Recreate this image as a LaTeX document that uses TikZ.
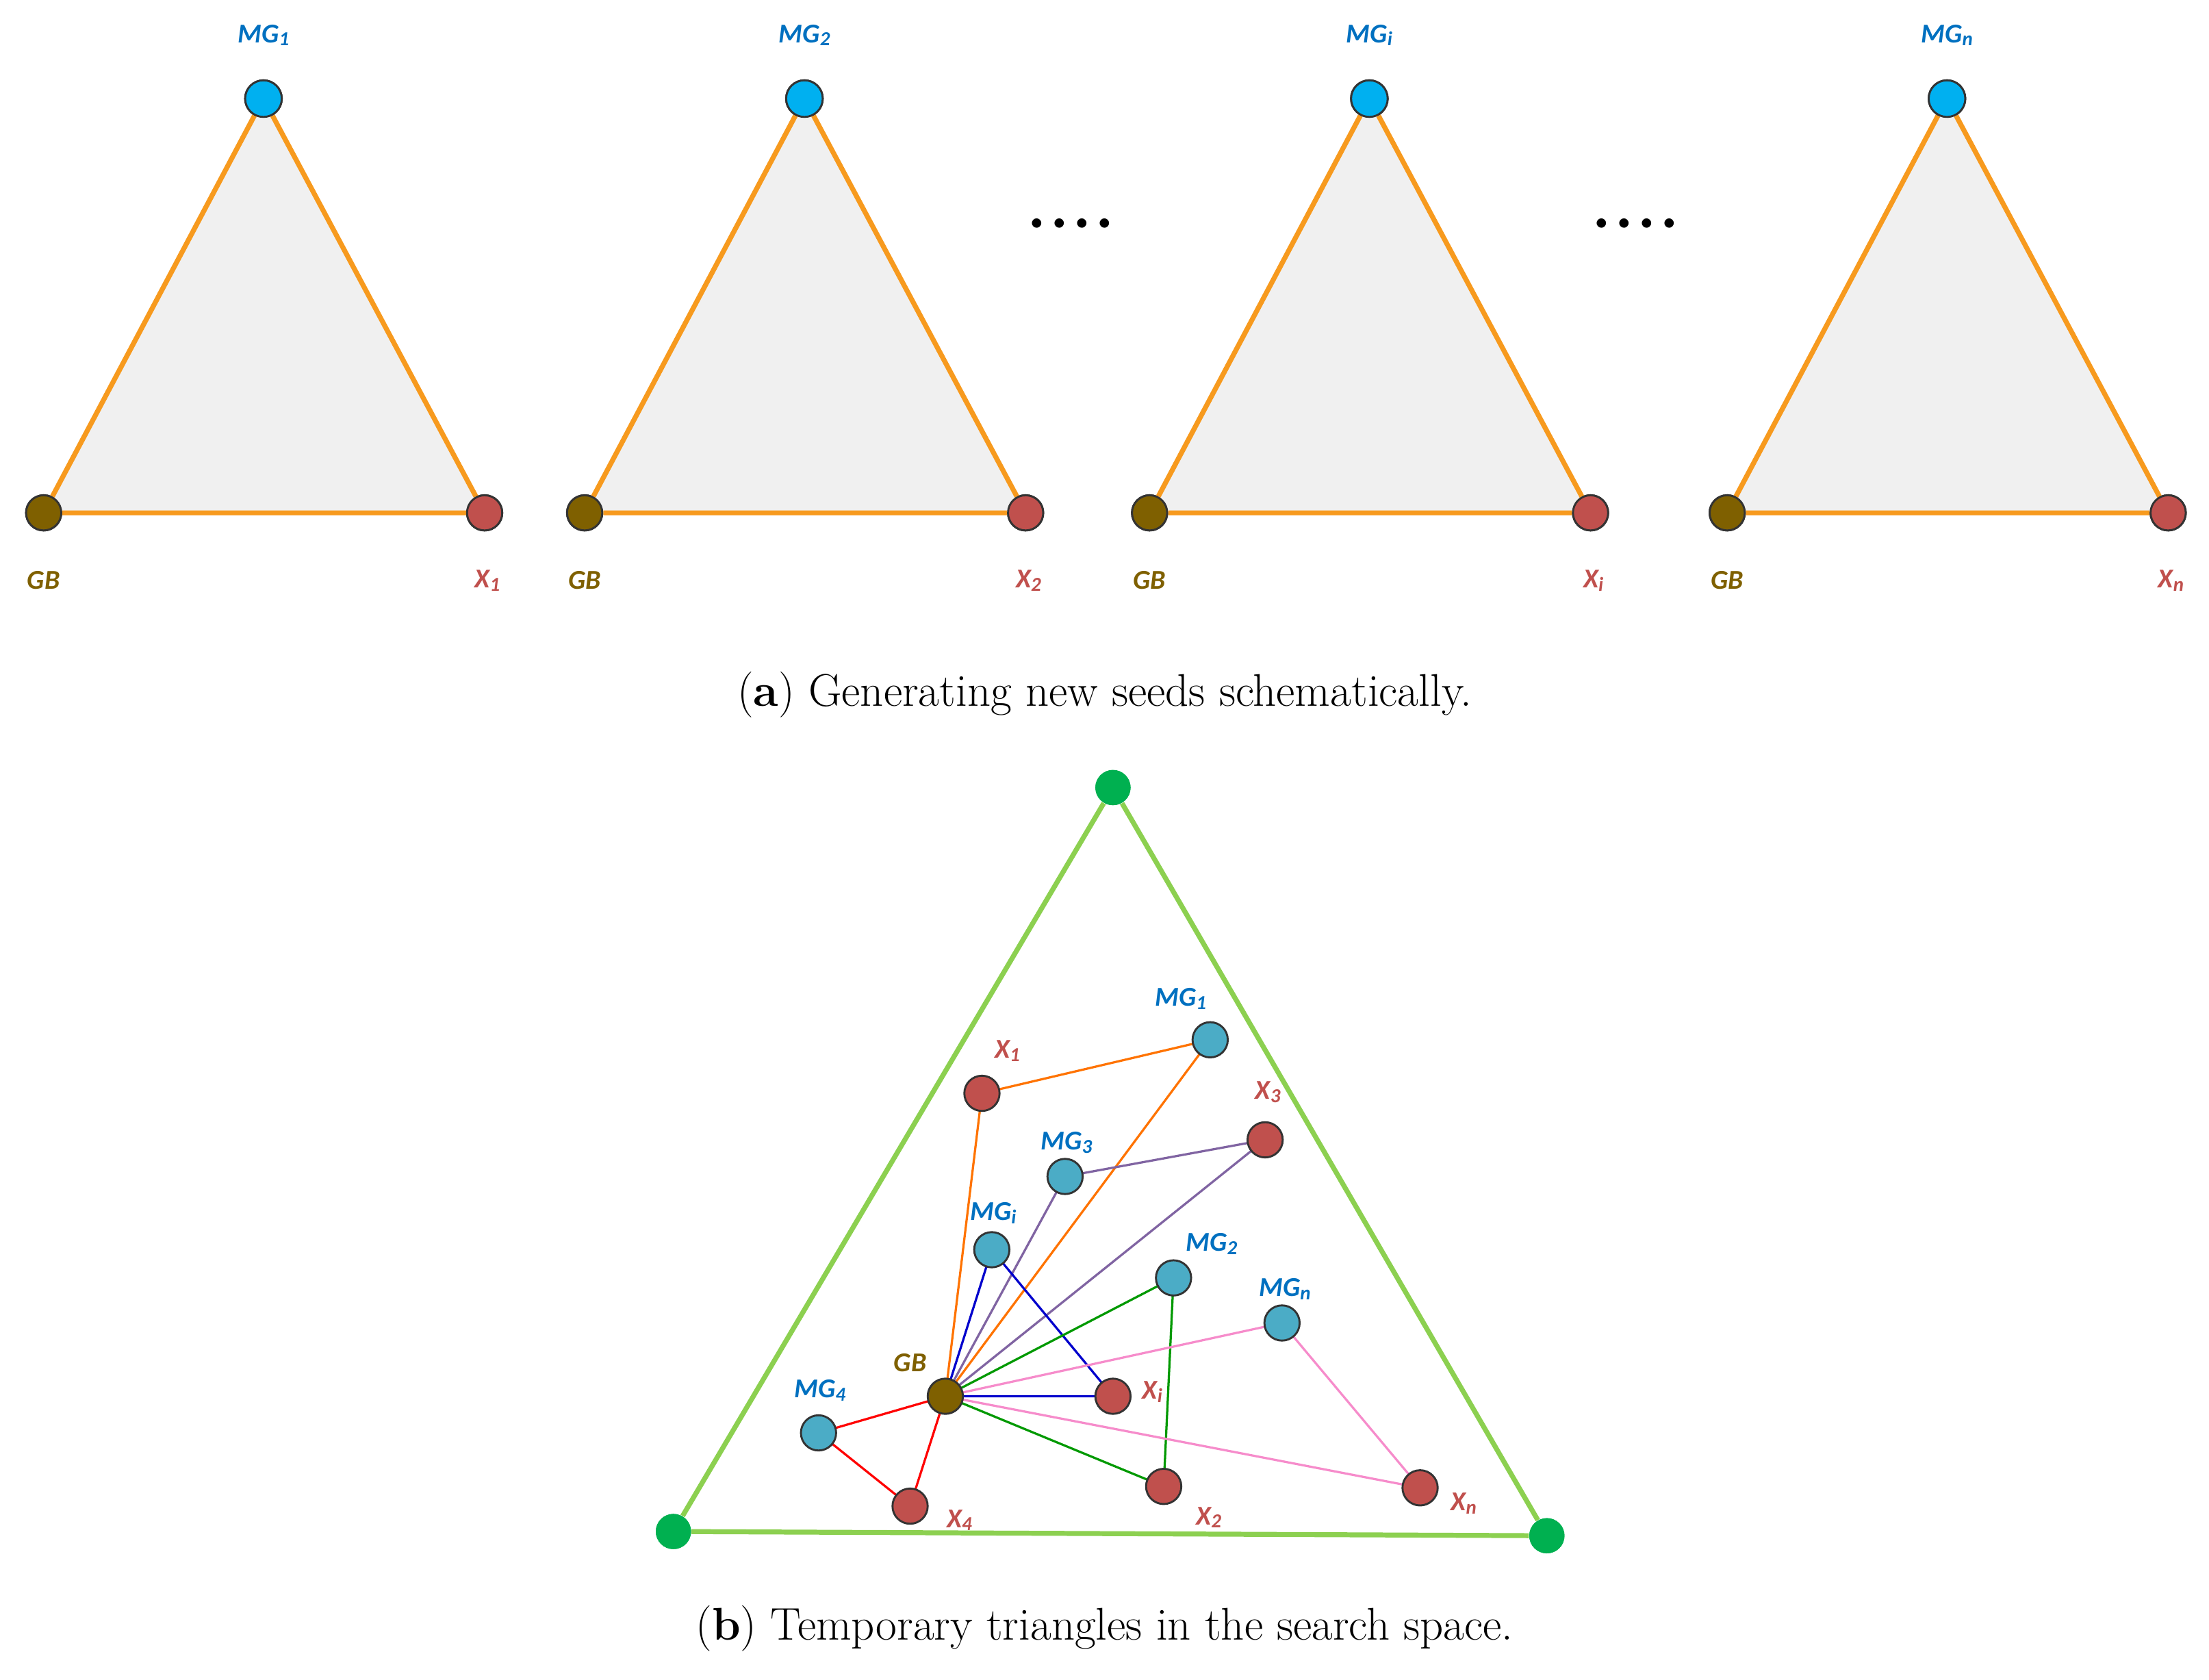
\documentclass[tikz,border=0pt]{standalone}
\usepackage{fontspec}
\newfontfamily\lab{Carlito}
\newcommand{\sbs}[1]{\raisebox{-0.25ex}{\fontsize{8}{8}\selectfont #1}}
\begin{document}
\begin{tikzpicture}[x=0.02cm,y=-0.02cm,
  mgt/.style={circle,draw=black!80,line width=0.8pt,fill=mgtcol,minimum size=26*0.02cm,inner sep=0pt},
  mgb/.style={circle,draw=black!80,line width=0.8pt,fill=mgbcol,minimum size=25*0.02cm,inner sep=0pt},
  xn/.style={circle,draw=black!80,line width=0.8pt,fill=xcol,minimum size=25*0.02cm,inner sep=0pt},
  gbn/.style={circle,draw=black!80,line width=0.8pt,fill=gbcol,minimum size=25*0.02cm,inner sep=0pt},
  gn/.style={circle,fill=gdot,minimum size=25*0.02cm,inner sep=0pt},
  lbl/.style={font=\lab\bfseries\itshape\fontsize{11}{12}\selectfont},
  mgl/.style={lbl,text=mgcol},
  xl/.style={lbl,text=xcol},
  gbl/.style={lbl,text=gbcol},
  edge/.style={line width=0.9pt},
  captxt/.style={font=\fontsize{18.5}{20}\selectfont}]
\definecolor{mgcol}{HTML}{0070C0}
\definecolor{mgtcol}{HTML}{00B0F0}
\definecolor{xcol}{HTML}{C0504D}
\definecolor{gbcol}{HTML}{7F6000}
\definecolor{mgbcol}{HTML}{4BACC6}
\definecolor{orng}{HTML}{F79A1E}
\definecolor{grn}{HTML}{8CD050}
\definecolor{gdot}{HTML}{00B050}
\definecolor{purp}{HTML}{8064A2}
\useasboundingbox (0,0) rectangle (1568,1192);
% top triangles
\foreach \dx/\s [count=\k] in {0/1,384/2,785/i,1195/n}{
  \begin{scope}[xshift=\dx*0.02cm]
  \node[mgt] (m\k) at (187,70) {};
  \node[gbn] (g\k) at (31,364) {};
  \node[xn] (x\k) at (344,364) {};
  \fill[gray!12] (m\k.center)--(g\k.center)--(x\k.center)--cycle;
  \draw[orng,line width=2pt,line join=round] (m\k)--(g\k)--(x\k)--(m\k);
  \node[mgt] at (187,70) {};
  \node[gbn] at (31,364) {};
  \node[xn] at (344,364) {};
  \node[mgl] (lm\k) at (187,25) {MG\sbs{\s}};
  \node[gbl] (lg\k) at (31,412) {GB};
  \node[xl] (lx\k) at (346,412) {X\sbs{\s}};
  \end{scope}}
\node[font=\fontsize{14}{14}\selectfont,inner sep=0pt] (d1) at (760,160) {\textbullet\kern-1.5pt\textbullet\kern-1.5pt\textbullet\kern-1.5pt\textbullet};
\node[font=\fontsize{14}{14}\selectfont,inner sep=0pt] (d2) at (1161,160) {\textbullet\kern-1.5pt\textbullet\kern-1.5pt\textbullet\kern-1.5pt\textbullet};
\node[captxt] (ca) at (784,493) {(\textbf{a}) Generating new seeds schematically.};
% bottom
\node[gn] (A) at (790,559) {};
\node[gn] (B) at (478,1087) {};
\node[gn] (C) at (1098,1090) {};
\draw[grn,line width=2pt] (A)--(B)--(C)--(A);
\node[gn] at (790,559) {};
\node[gn] at (478,1087) {};
\node[gn] at (1098,1090) {};
\coordinate (MG1) at (859,738); \coordinate (X1) at (697,776);
\coordinate (X3) at (898,809); \coordinate (MG3) at (756,835);
\coordinate (MGi) at (704,887); \coordinate (MG2) at (833,907);
\coordinate (MGn) at (910,939); \coordinate (GB) at (671,991);
\coordinate (Xi) at (790,991); \coordinate (MG4) at (581,1017);
\coordinate (X4) at (646,1069); \coordinate (X2) at (826,1055);
\coordinate (Xn) at (1008,1056);
\draw[edge,orange!90!red] (X1)--(MG1) (X1)--(GB) (GB)--(MG1);
\draw[edge,purp] (MG3)--(X3) (GB)--(MG3) (GB)--(X3);
\draw[edge,blue!80!black] (GB)--(MGi) (MGi)--(Xi) (GB)--(Xi);
\draw[edge,green!60!black] (GB)--(MG2) (MG2)--(X2) (GB)--(X2);
\draw[edge,magenta!45] (GB)--(MGn) (MGn)--(Xn) (GB)--(Xn);
\draw[edge,red] (GB)--(MG4) (MG4)--(X4) (X4)--(GB);
\foreach \n in {MG1,MG3,MGi,MG2,MGn,MG4} \node[mgb] (n\n) at (\n) {};
\foreach \n in {X1,X3,Xi,X4,X2,Xn} \node[xn] (n\n) at (\n) {};
\node[gbn] (nGB) at (GB) {};
\node[mgl] (l1) at (838,709) {MG\sbs{1}};
\node[xl] (l2) at (715,746) {X\sbs{1}};
\node[xl] (l3) at (900,775) {X\sbs{3}};
\node[mgl] (l4) at (757,811) {MG\sbs{3}};
\node[mgl] (l5) at (705,861) {MG\sbs{i}};
\node[mgl] (l6) at (860,883) {MG\sbs{2}};
\node[mgl] (l7) at (912,915) {MG\sbs{n}};
\node[gbl] (l8) at (646,967) {GB};
\node[xl] (l9) at (818,988) {X\sbs{i}};
\node[mgl] (l10) at (582,987) {MG\sbs{4}};
\node[xl] (l11) at (681,1079) {X\sbs{4}};
\node[xl] (l12) at (858,1077) {X\sbs{2}};
\node[xl] (l13) at (1039,1067) {X\sbs{n}};
\node[captxt] (cb) at (784,1156) {(\textbf{b}) Temporary triangles in the search space.};
\end{tikzpicture}
\end{document}
